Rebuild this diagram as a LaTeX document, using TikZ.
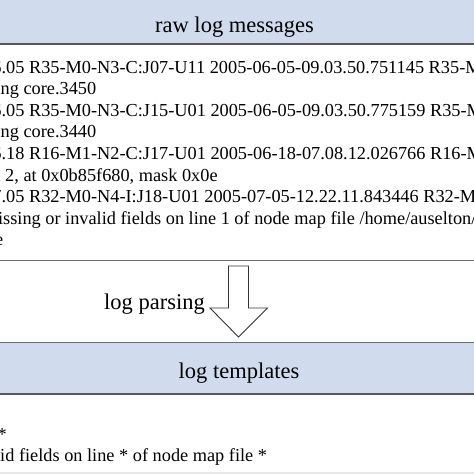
\documentclass[tikz,border=0pt]{standalone}
\usepackage{fontspec}
\setmainfont{Liberation Serif}
\definecolor{bandblue}{RGB}{208,220,238}
\definecolor{rulegray}{RGB}{110,110,110}
\definecolor{darkrule}{RGB}{85,88,95}
\definecolor{stripgray}{RGB}{232,232,232}
\tikzset{
  band/.style={fill=bandblue, draw=none, minimum width=474pt, inner sep=0pt, outer sep=0pt, anchor=north west},
  headtext/.style={font=\fontsize{22.5}{27}\selectfont, inner sep=0pt, anchor=base},
  logline/.style={font=\fontsize{18.3}{22}\selectfont, inner sep=0pt, anchor=base west},
  bandrule/.style={draw=darkrule, line width=1.6pt},
  seprule/.style={draw=rulegray, line width=0.9pt},
  blockarrow/.style={draw=black!80, line width=0.9pt, fill=white, line join=miter},
}
\begin{document}
\begin{tikzpicture}[x=1pt,y=-1pt]
\useasboundingbox (0,0) rectangle (474,474);
\begin{scope}
\clip (0,0) rectangle (474,474);
% top band
\node[band, minimum height=44pt] (rawband) at (0,0) {};
\draw[bandrule] (rawband.south west) -- (rawband.south east);
\node[headtext] (rawhead) at (234.5,32) {raw log messages};
% raw log lines
\node[logline] (r1) at (6,73) {\llap{2005.06.}05 R35-M0-N3-C:J07-U11 2005-06-05-09.03.50.751145 R35-M0-N3-C:J07-U11 RAS KERNEL INFO};
\node[logline] (r2) at (0.5,94.6) {\llap{generati}ng core.3450};
\node[logline] (r3) at (6,116.2) {\llap{2005.06.}05 R35-M0-N3-C:J15-U01 2005-06-05-09.03.50.775159 R35-M0-N3-C:J15-U01 RAS KERNEL INFO};
\node[logline] (r4) at (0.5,137.8) {\llap{generati}ng core.3440};
\node[logline] (r5) at (6,159.4) {\llap{2005.06.}18 R16-M1-N2-C:J17-U01 2005-06-18-07.08.12.026766 R16-M1-N2-C:J17-U01 RAS KERNEL INFO};
\node[logline] (r6) at (5,181) {\llap{CE sym }2, at 0x0b85f680, mask 0x0e};
\node[logline] (r7) at (6,202.6) {\llap{2005.07.}05 R32-M0-N4-I:J18-U01 2005-07-05-12.22.11.843446 R32-M0-N4-I:J18-U01 RAS KERNEL FATAL};
\node[logline] (r8) at (3,224.2) {\llap{mi}ssing or invalid fields on line 1 of node map file /home/auselton/bgl/64racks.4102};
\node[logline] (r9) at (-5,245.8) {e};
% separator
\coordinate (sepL) at (0,260);
\coordinate (sepR) at (474,260);
\draw[seprule] (sepL) -- (sepR);
% block arrow
\draw[blockarrow] (228.5,266) -- (248.5,266) -- (248.5,308) -- (267.5,308) -- (238.5,337)
  -- (210,308) -- (228.5,308) -- cycle;
\node[headtext] (parse) at (154.5,309) {log parsing};
% templates band
\node[band, minimum height=52pt] (tplband) at (0,342) {};
\draw[seprule] (tplband.north west) -- (tplband.north east);
\draw[bandrule] (tplband.south west) -- (tplband.south east);
\node[headtext] (tplhead) at (239,378) {log templates};
% template lines
\node[logline] (t1) at (-2.5,440) {*};
\node[logline] (t2) at (0,461.5) {\llap{missing or inval}id fields on line * of node map file *};
% bottom strip
\fill[stripgray] (0,472) rectangle (474,474);
\end{scope}
\end{tikzpicture}
\end{document}
